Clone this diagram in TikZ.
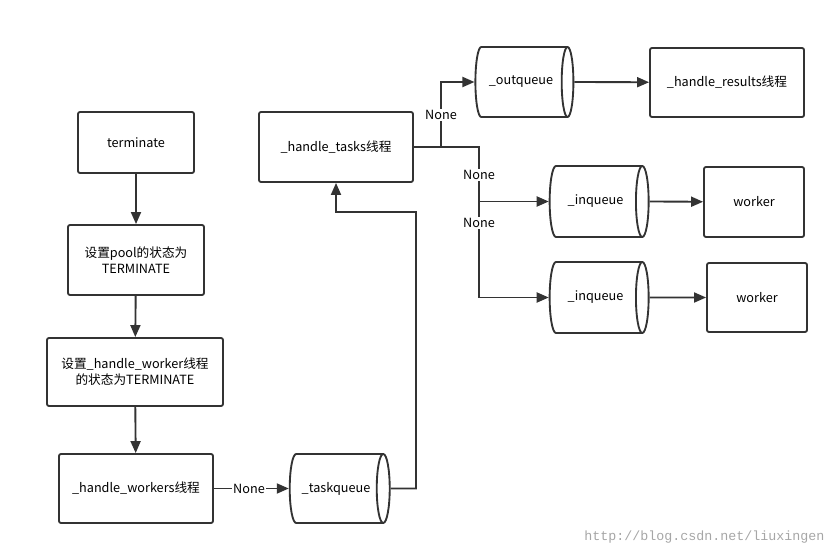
\documentclass[tikz,border=0pt]{standalone}
\usepackage{fontspec}
\setmainfont{Noto Sans CJK SC}
\newfontfamily\wmfont{Liberation Mono}
\usetikzlibrary{shapes.geometric,arrows.meta}
\definecolor{ln}{HTML}{333333}
\tikzset{
  box/.style={draw=ln,line width=1.4pt,rounded corners=1.5pt,align=center,inner sep=0pt,font=\fontsize{9.5}{12}\selectfont},
  cyl/.style={cylinder,draw=ln,line width=1.4pt,aspect=1.0,inner sep=0pt,font=\fontsize{9.5}{12}\selectfont},
  conn/.style={draw=ln,line width=1.4pt,-{Triangle[length=9pt,width=7.5pt]}},
  lbl/.style={fill=white,inner sep=1pt,font=\fontsize{9.5}{12}\selectfont}
}
\begin{document}
\begin{tikzpicture}[x=0.75pt,y=-0.75pt]
\useasboundingbox (0,0) rectangle (839,556);
\node[box,minimum width=116*0.75pt,minimum height=61*0.75pt] (term) at (136,142.5) {terminate};
\node[box,minimum width=136*0.75pt,minimum height=70*0.75pt] (pool) at (136,260) {设置pool的状态为\\TERMINATE};
\node[box,minimum width=176*0.75pt,minimum height=68*0.75pt] (hw) at (135,372) {设置\_handle\_worker线程\\的状态为TERMINATE};
\node[box,minimum width=154*0.75pt,minimum height=69*0.75pt] (hws) at (136,488.5) {\_handle\_workers线程};
\node[cyl,minimum height=100*0.75pt,minimum width=69*0.75pt] (tq) at (336,488.5) {\_taskqueue};
\node[box,minimum width=154*0.75pt,minimum height=70*0.75pt] (ht) at (336,147) {\_handle\_tasks线程};
\node[cyl,minimum height=98*0.75pt,minimum width=70*0.75pt] (oq) at (521,82) {\_outqueue};
\node[box,minimum width=154*0.75pt,minimum height=69*0.75pt] (hr) at (727,82.5) {\_handle\_results线程};
\node[cyl,minimum height=99*0.75pt,minimum width=71*0.75pt] (iq1) at (595.5,201.5) {\_inqueue};
\node[box,minimum width=100*0.75pt,minimum height=70*0.75pt] (w1) at (754,202) {worker};
\node[cyl,minimum height=99*0.75pt,minimum width=71*0.75pt] (iq2) at (595.5,297.5) {\_inqueue};
\node[box,minimum width=100*0.75pt,minimum height=69*0.75pt] (w2) at (757,297.5) {worker};
\coordinate (j1) at (441,147);
\coordinate (j2) at (479,147);
\draw[conn] (term) -- (pool);
\draw[conn] (pool) -- (hw);
\draw[conn] (hw) -- (hws);
\draw[conn] (hws) -- (tq);
\node[lbl] (n0) at (249,488.5) {None};
\draw[conn] (tq.east) -- (416,488.5) -- (416,212) -- (336,212) -- (ht.south);
\draw[conn] (ht.east) -- (j1) |- (oq.west);
\draw[conn] (j1) -- (j2) |- (iq1.west);
\draw[conn] (j2) |- (iq2.west);
\node[lbl] (n1) at (441,115) {None};
\node[lbl] (n2) at (479,175) {None};
\node[lbl] (n3) at (479,223) {None};
\draw[conn] (oq.east) -- (hr);
\draw[conn] (iq1.east) -- (w1);
\draw[conn] (iq2.east) -- (w2);
\node[text=black!35,font=\wmfont\fontsize{10}{12}\selectfont,anchor=east] (wm) at (829,537) {http://blog.csdn.net/liuxingen};
\end{tikzpicture}
\end{document}
